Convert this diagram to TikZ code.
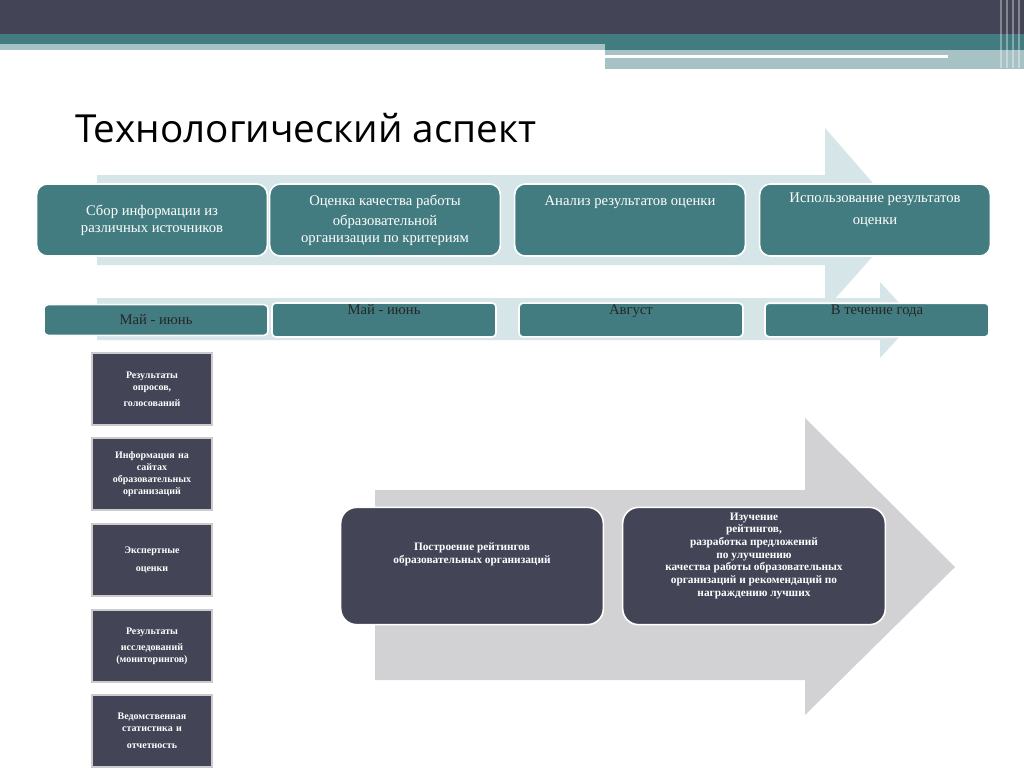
\documentclass[tikz,border=0pt]{standalone}
\usepackage{fontspec}
\setmainfont{Liberation Serif}
\newfontfamily\titlefont{Open Sans}
\begin{document}
\begin{tikzpicture}[x=0.75pt,y=-0.75pt,
  tbox/.style={draw=white,line width=1.2pt,fill=teal0,rounded corners=8pt,text=white,align=center,font=\fontsize{11}{13}\selectfont,minimum height=54pt,inner sep=2pt},
  dbox/.style={draw=white,line width=1.2pt,fill=teal0,rounded corners=3pt,text=black!85,align=center,font=\fontsize{11}{13}\selectfont,minimum height=23pt,inner sep=1pt},
  sbox/.style={draw=gray!40,line width=1.2pt,fill=dark0,text=white,align=center,font=\bfseries\fontsize{7.5}{9}\selectfont,minimum width=90pt,minimum height=54pt,text width=86pt,inner sep=1pt},
  bbox/.style={draw=white,line width=1.2pt,fill=dark0,rounded corners=12pt,text=white,align=center,font=\bfseries\fontsize{8.5}{9.5}\selectfont,minimum width=197pt,minimum height=88pt,inner sep=1pt}]
\definecolor{dark0}{HTML}{434456}
\definecolor{teal0}{HTML}{427C80}
\definecolor{lteal}{HTML}{A7C2C5}
\definecolor{larrow}{HTML}{D6E6E8}
\definecolor{garrow}{HTML}{D2D2D4}
\useasboundingbox (0,0) rectangle (1024,768);
\fill[white] (0,0) rectangle (1024,768);
% header
\fill[dark0] (0,0) rectangle (1024,34);
\fill[teal0] (0,34) rectangle (1024,44);
\fill[teal0] (605,44) rectangle (1024,50);
\fill[lteal] (0,44) rectangle (605,50);
\fill[lteal] (605,50) rectangle (1024,55);
\fill[lteal] (605,58) rectangle (1024,69);
\fill[lteal] (948,55) rectangle (1024,58);
\foreach \x in {1000,1006,1012,1018}{\fill[white,opacity=0.35] (\x,0) rectangle (\x+1.5,68);}
\node[anchor=west,font=\titlefont\fontsize{29}{34}\selectfont,inner sep=0] (title) at (75,128) {Технологический аспект};
% arrows
\fill[larrow] (97,175) -- (825,175) -- (825,128) -- (905,220) -- (825,310) -- (825,265) -- (97,265) -- cycle;
\fill[larrow] (97,298) -- (880,298) -- (880,282) -- (915,320) -- (880,358) -- (880,340) -- (97,340) -- cycle;
\fill[garrow] (375,490) -- (805,490) -- (805,418) -- (955,567) -- (805,715) -- (805,680) -- (375,680) -- cycle;
% top boxes
\node[tbox,minimum width=173pt] (t1) at (152,220) {Сбор информации из\\различных источников};
\node[tbox,minimum width=173pt] (t2) at (385,220) {Оценка качества работы\\[2pt]образовательной\\организации по критериям};
\node[tbox,minimum width=173pt] (t3) at (630,220) {Анализ результатов оценки\\[16pt]};
\node[tbox,minimum width=173pt] (t4) at (875,220) {Использование результатов\\[4pt]оценки\\[4pt]};
% dates
\node[dbox,minimum width=168pt] (d1) at (156,320) {Май - июнь};
\node[dbox,minimum width=168pt] (d2) at (384,320) {Май - июнь\\[3pt]};
\node[dbox,minimum width=168pt] (d3) at (631,320) {Август\\[3pt]};
\node[dbox,minimum width=168pt] (d4) at (877,320) {В течение года\\[3pt]};
% sources
\node[sbox] (s1) at (152,389) {Результаты\\опросов,\\[3pt]голосований};
\node[sbox] (s2) at (152,474) {Информация на\\сайтах\\образовательных\\организаций\\[6pt]};
\node[sbox] (s3) at (152,560) {Экспертные\\[4pt]оценки};
\node[sbox] (s4) at (152,646) {Результаты\\[3pt]исследований\\(мониторингов)};
\node[sbox] (s5) at (152,731) {Ведомственная\\статистика и\\[4pt]отчетность};
% big boxes
\node[bbox] (b1) at (472,566) {Построение рейтингов\\образовательных организаций\\[10pt]};
\node[bbox] (b2) at (754,566) {Изучение\\рейтингов,\\разработка предложений\\по улучшению\\качества работы образовательных\\организаций и рекомендаций по\\награждению лучших\\[8pt]};
\end{tikzpicture}
\end{document}
